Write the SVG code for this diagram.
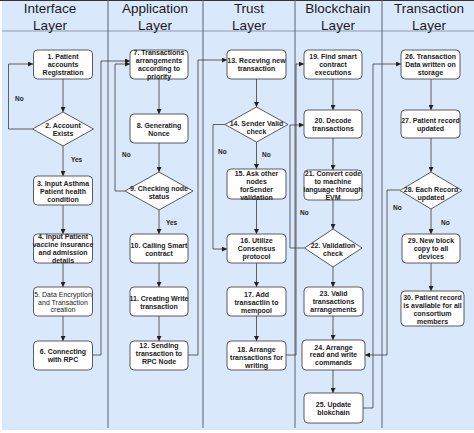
<svg xmlns="http://www.w3.org/2000/svg" width="474" height="433" viewBox="0 0 474 433">
<style>
.lane{fill:#dae8fc;}
.lb{stroke:#5b6470;stroke-width:1;fill:none;}
.hd{font-family:"Liberation Sans",Arial,sans-serif;font-size:13.5px;fill:#1a1a1a;text-anchor:middle;}
.nd rect,.nd path{fill:#ffffff;stroke:#4a4a4a;stroke-width:0.9;}
.nd text{font-family:"Liberation Sans",Arial,sans-serif;font-size:7px;font-weight:bold;fill:#222;text-anchor:middle;}
.nd text.r{font-weight:normal;}
.cn path{fill:none;stroke:#3a3a3a;stroke-width:0.8;marker-end:url(#ah);}
.lbl{font-family:"Liberation Sans",Arial,sans-serif;font-size:6.5px;font-weight:bold;fill:#222;}
</style>
<defs>
<marker id="ah" markerUnits="userSpaceOnUse" markerWidth="5" markerHeight="5" refX="5" refY="2.5" orient="auto">
<path d="M0,0 L5,2.5 L0,5 z" fill="#222"/>
</marker>
</defs>
<rect x="0" y="0" width="474" height="433" fill="#ffffff"/>
<rect class="lane" x="2" y="0" width="472" height="430"/>
<g id="lanes">
<line x1="0" y1="0.5" x2="474" y2="0.5" stroke="#333" stroke-width="1.2"/>
<line x1="2" y1="31" x2="474" y2="31" stroke="#7d8894" stroke-width="0.8"/>
<line class="lb" x1="108" y1="0" x2="108" y2="428"/>
<line class="lb" x1="203" y1="0" x2="203" y2="428"/>
<line class="lb" x1="295" y1="0" x2="295" y2="428"/>
<line class="lb" x1="382" y1="0" x2="382" y2="428"/>
<text class="hd" x="50" y="13.3">Interface</text>
<text class="hd" x="50" y="29.5">Layer</text>
<text class="hd" x="155" y="13.3">Application</text>
<text class="hd" x="155" y="29.5">Layer</text>
<text class="hd" x="249" y="13.3">Trust</text>
<text class="hd" x="249" y="29.5">Layer</text>
<text class="hd" x="338" y="13.3">Blockchain</text>
<text class="hd" x="338" y="29.5">Layer</text>
<text class="hd" x="429" y="13.3">Transaction</text>
<text class="hd" x="429" y="29.5">Layer</text>
</g>

<g id="connectors" class="cn">
<path d="M63,79 V112"/>
<path d="M32.5,129 H8.5 V64 H33"/>
<path d="M63,146 V176"/>
<path d="M63,205 V234"/>
<path d="M63,263 V287"/>
<path d="M63,316 V341"/>
<path d="M92.5,355 H101 V61 H130"/>
<path d="M159,79 V114"/>
<path d="M159,143 V172"/>
<path d="M159,210 V234"/>
<path d="M159,263 V287"/>
<path d="M159,316 V341"/>
<path d="M125,191 H115 V64 H130"/>
<path d="M188,355 H198 V60 H227"/>
<path d="M256.5,79 V107"/>
<path d="M256.5,142 V169"/>
<path d="M256.5,199 V234"/>
<path d="M256.5,263 V287"/>
<path d="M256.5,316 V341"/>
<path d="M225,124.5 H213 V249 H227"/>
<path d="M286,355 H296 V64 H304"/>
<path d="M333,79 V110"/>
<path d="M333,138 V170"/>
<path d="M333,200 V229"/>
<path d="M333,267 V287"/>
<path d="M333,316 V340"/>
<path d="M333,370 V393"/>
<path d="M304.5,248 H290 V125 H304"/>
<path d="M363,408 H373 V64 H401"/>
<path d="M431,79 V110"/>
<path d="M431,138 V172"/>
<path d="M431,209 V234"/>
<path d="M431,263 V291"/>
<path d="M400,190 H387 V355 H365"/>
<text class="lbl" x="15" y="101">No</text>
<text class="lbl" x="71" y="161.5">Yes</text>
<text class="lbl" x="122" y="156.5">No</text>
<text class="lbl" x="166" y="224.5">Yes</text>
<text class="lbl" x="218" y="153.5">No</text>
<text class="lbl" x="262" y="156.5">No</text>
<text class="lbl" x="300" y="214.5">No</text>
<text class="lbl" x="393" y="209.5">No</text>
<text class="lbl" x="441" y="224.5">No</text>
</g>

<g id="n1" class="nd"><rect x="33.5" y="50" width="59" height="29" rx="4"/><text x="63" y="58.5">1. Patient<tspan x="63" dy="8">accounts</tspan><tspan x="63" dy="8">Registration</tspan></text></g>
<g id="n2" class="nd"><path d="M63,112 L93.5,129 L63,146 L32.5,129 Z"/><text x="63" y="127.5">2. Account<tspan x="63" dy="8">Exists</tspan></text></g>
<g id="n3" class="nd"><rect x="33.5" y="176" width="59" height="29" rx="4"/><text x="63" y="185.5">3. Input Asthma<tspan x="63" dy="8.2">Patient health</tspan><tspan x="63" dy="8.2">condition</tspan></text></g>
<g id="n4" class="nd"><rect x="33.5" y="234" width="59" height="29" rx="4"/><text x="63" y="239.3">4. Input Patient<tspan x="63" dy="8">vaccine insurance</tspan><tspan x="63" dy="8">and admission</tspan><tspan x="63" dy="8">details</tspan></text></g>
<g id="n5" class="nd"><rect x="33.5" y="287" width="59" height="29" rx="4"/><text class="r" x="63" y="297.2">5. Data Encryption<tspan x="63" dy="7.4">and Transaction</tspan><tspan x="63" dy="7.4">creation</tspan></text></g>
<g id="n6" class="nd"><rect x="33.5" y="341" width="59" height="29" rx="4"/><text x="63" y="353.7">6. Connecting<tspan x="63" dy="8">with RPC</tspan></text></g>

<g id="n7" class="nd"><rect x="130" y="50" width="58" height="29" rx="4"/><text x="159" y="54.5">7. Transactions<tspan x="159" dy="8.3">arrangements</tspan><tspan x="159" dy="8.3">according to</tspan><tspan x="159" dy="8.3">priority</tspan></text></g>
<g id="n8" class="nd"><rect x="130" y="114" width="58" height="29" rx="4"/><text x="159" y="127.5">8. Generating<tspan x="159" dy="8">Nonce</tspan></text></g>
<g id="n9" class="nd"><path d="M159,172 L193,191 L159,210 L125,191 Z"/><text x="159" y="190.5">9. Checking node<tspan x="159" dy="8">status</tspan></text></g>
<g id="n10" class="nd"><rect x="130" y="234" width="58" height="29" rx="4"/><text x="159" y="247.5">10. Calling Smart<tspan x="159" dy="8">contract</tspan></text></g>
<g id="n11" class="nd"><rect x="130" y="287" width="58" height="29" rx="4"/><text x="159" y="300.5">11. Creating Write<tspan x="159" dy="8">transaction</tspan></text></g>
<g id="n12" class="nd"><rect x="130" y="341" width="58" height="29" rx="4"/><text x="159" y="347.5">12. Sending<tspan x="159" dy="8">transaction to</tspan><tspan x="159" dy="8">RPC Node</tspan></text></g>

<g id="n13" class="nd"><rect x="227" y="50" width="59" height="29" rx="4"/><text x="256.5" y="63.3">13. Receving new<tspan x="256.5" dy="8">transaction</tspan></text></g>
<g id="n14" class="nd"><path d="M256.5,107 L288,124.5 L256.5,142 L225,124.5 Z"/><text x="256.5" y="125.5">14. Sender Valid<tspan x="256.5" dy="8">check</tspan></text></g>
<g id="n15" class="nd"><rect x="227" y="169" width="59" height="30" rx="4"/><text x="256.5" y="175.5">15. Ask other<tspan x="256.5" dy="8">nodes</tspan><tspan x="256.5" dy="8">forSender</tspan><tspan x="256.5" dy="8">validation</tspan></text></g>
<g id="n16" class="nd"><rect x="227" y="234" width="59" height="29" rx="4"/><text x="256.5" y="242.5">16. Utilize<tspan x="256.5" dy="8.3">Consensus</tspan><tspan x="256.5" dy="8.3">protocol</tspan></text></g>
<g id="n17" class="nd"><rect x="227" y="287" width="59" height="29" rx="4"/><text x="256.5" y="296.5">17. Add<tspan x="256.5" dy="8">transactlin to</tspan><tspan x="256.5" dy="8">mempool</tspan></text></g>
<g id="n18" class="nd"><rect x="227" y="341" width="59" height="29" rx="4"/><text x="256.5" y="351.5">18. Arrange<tspan x="256.5" dy="8">transactions for</tspan><tspan x="256.5" dy="8">writing</tspan></text></g>

<g id="n19" class="nd"><rect x="304" y="50" width="58" height="29" rx="4"/><text x="333" y="58.5">19. Find smart<tspan x="333" dy="8">contract</tspan><tspan x="333" dy="8">executions</tspan></text></g>
<g id="n20" class="nd"><rect x="304" y="110" width="58" height="28" rx="4"/><text x="333" y="123.3">20. Decode<tspan x="333" dy="7.6">transactions</tspan></text></g>
<g id="n21" class="nd"><rect x="304" y="170" width="58" height="30" rx="4"/><text x="333" y="175.5">21. Convert code<tspan x="333" dy="8.2">to machine</tspan><tspan x="333" dy="8.2">language through</tspan><tspan x="333" dy="8.2">EVM</tspan></text></g>
<g id="n22" class="nd"><path d="M333,229 L362,248 L333,267 L304.5,248 Z"/><text x="333" y="247.5">22. Validation<tspan x="333" dy="8">check</tspan></text></g>
<g id="n23" class="nd"><rect x="304" y="287" width="59" height="29" rx="4"/><text x="333.5" y="295.5">23. Valid<tspan x="333.5" dy="8">transactions</tspan><tspan x="333.5" dy="8">arrangements</tspan></text></g>
<g id="n24" class="nd"><rect x="302" y="340" width="63" height="30" rx="4"/><text x="333.5" y="349.5">24. Arrange<tspan x="333.5" dy="7.6">read and write</tspan><tspan x="333.5" dy="7.6">commands</tspan></text></g>
<g id="n25" class="nd"><rect x="304" y="393" width="59" height="30" rx="4"/><text x="333.5" y="406.5">25. Update<tspan x="333.5" dy="8">blokchain</tspan></text></g>

<g id="n26" class="nd"><rect x="401" y="50" width="59" height="29" rx="4"/><text x="430.5" y="58.5">26. Transaction<tspan x="430.5" dy="8">Data written on</tspan><tspan x="430.5" dy="8">storage</tspan></text></g>
<g id="n27" class="nd"><rect x="401" y="110" width="59" height="28" rx="4"/><text x="430.5" y="123.3">27. Patient record<tspan x="430.5" dy="7.6">updated</tspan></text></g>
<g id="n28" class="nd"><path d="M431,172 L462,190.5 L431,209 L400,190.5 Z"/><text x="431" y="191.5">28. Each Record<tspan x="431" dy="8">updated</tspan></text></g>
<g id="n29" class="nd"><rect x="402" y="234" width="58" height="29" rx="4"/><text x="431" y="242.5">29. New block<tspan x="431" dy="8">copy to all</tspan><tspan x="431" dy="8">devices</tspan></text></g>
<g id="n30" class="nd"><rect x="401" y="291" width="63" height="35" rx="4"/><text x="432.5" y="299.5">30. Patient record<tspan x="432.5" dy="8">is available for all</tspan><tspan x="432.5" dy="8">consortium</tspan><tspan x="432.5" dy="8">members</tspan></text></g>
</svg>
